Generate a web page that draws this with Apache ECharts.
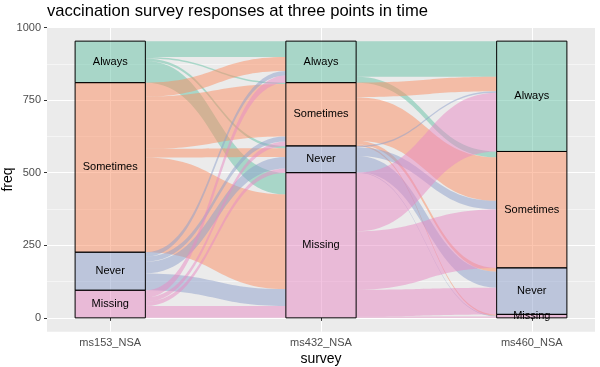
<!DOCTYPE html>
<html><head><meta charset="utf-8">
<script src="https://cdn.jsdelivr.net/npm/echarts@6/dist/echarts.min.js"></script>
<style>html,body{margin:0;padding:0;background:#fff}#c{width:600px;height:367px}</style>
</head><body><div id="c"></div>
<script>
// ---- data ----
const surveys = ['ms153_NSA', 'ms432_NSA', 'ms460_NSA'];
const responses = ['Always', 'Sometimes', 'Never', 'Missing'];
const counts153 = [143, 584, 131, 95];
const counts432 = [143, 218, 92, 500];
const counts460 = [380, 401, 160, 12];
// rows: response at earlier survey, columns: response at later survey
const flow153to432 = [
  [55, 5, 8, 75],
  [48, 180, 30, 326],
  [15, 18, 40, 58],
  [25, 15, 14, 41]
];
const flow432to460 = [
  [123, 20, 0, 0],
  [50, 150, 13, 5],
  [5, 30, 55, 2],
  [202, 201, 92, 5]
];
const yTicks = [0, 250, 500, 750, 1000];
const yMinorTicks = [125, 375, 625, 875];

// ---- palette ----
const palette = ['#66C2A5', '#FC8D62', '#8DA0CB', '#E78AC3'];
function rgba(hex, a) {
  const n = parseInt(hex.slice(1), 16);
  return 'rgba(' + (n >> 16) + ',' + ((n >> 8) & 255) + ',' + (n & 255) + ',' + a + ')';
}
const FONT = 'Liberation Sans, Arial, sans-serif';

// ---- build stacked layout in data units ----
const counts = [counts153, counts432, counts460];
const flows = [flow153to432, flow432to460];
const totals = counts.map(c => c.reduce((a, b) => a + b, 0));
const total = Math.max.apply(null, totals);
function stratumTops(k) {
  const t = []; let c = totals[k];
  counts[k].forEach(v => { t.push(c); c -= v; });
  return t;
}
const strataData = [];
counts.forEach((c, k) => {
  const tops = stratumTops(k);
  c.forEach((v, i) => {
    strataData.push({ value: [k + 1, tops[i], tops[i] - v, i] });
  });
});
const flowData = [];
flows.forEach((F, k) => {
  const lt = stratumTops(k), rt = stratumTops(k + 1);
  const n = responses.length;
  for (let i = 0; i < n; i++) {
    for (let j = 0; j < n; j++) {
      const v = F[i][j];
      if (!v) continue;
      let offL = 0; for (let jj = 0; jj < j; jj++) offL += F[i][jj];
      let offR = 0; for (let ii = 0; ii < i; ii++) offR += F[ii][j];
      const l0 = lt[i] - offL, r0 = rt[j] - offR;
      flowData.push({ value: [k, i, j, v, l0, l0 - v, r0, r0 - v] });
    }
  }
});

const halfW = 1 / 6;
const chart = echarts.init(document.getElementById('c'));
chart.setOption({
  animation: false,
  title: {
    text: 'vaccination survey responses at three points in time',
    left: 47, top: 3, padding: 0,
    textStyle: { fontSize: 16.6, fontWeight: 'normal', color: '#000', fontFamily: FONT }
  },
  grid: {
    left: 47, right: 5, top: 27.3, bottom: 35.3,
    outerBoundsMode: 'none', containLabel: false,
    show: true, backgroundColor: '#EBEBEB', borderWidth: 0
  },
  xAxis: {
    type: 'value', min: 0.7, max: 3.3,
    axisLine: { show: false },
    axisTick: { show: true, length: 3, customValues: [1, 2, 3], lineStyle: { color: '#333', width: 1 } },
    axisLabel: { customValues: [1, 2, 3], formatter: v => surveys[Math.round(v) - 1], color: '#4D4D4D', fontSize: 11, margin: 6, fontFamily: FONT },
    splitLine: { show: true, lineStyle: { color: '#fff', width: 1 } },
    name: 'survey', nameLocation: 'middle', nameGap: 20, nameMoveOverlap: false,
    nameTextStyle: { fontSize: 14, color: '#000', fontFamily: FONT }
  },
  yAxis: [{
    type: 'value', min: -0.05 * total, max: 1.05 * total,
    axisLine: { show: false },
    axisTick: { show: true, length: 3, customValues: yTicks, lineStyle: { color: '#333', width: 1 } },
    axisLabel: { customValues: yTicks, formatter: v => String(Math.round(v)), color: '#4D4D4D', fontSize: 11, margin: 6, fontFamily: FONT },
    splitLine: { show: true, lineStyle: { color: '#fff', width: 1 } },
    name: 'freq', nameLocation: 'middle', nameGap: 32, nameMoveOverlap: false,
    nameTextStyle: { fontSize: 14, color: '#000', fontFamily: FONT }
  }, {
    type: 'value', min: -0.05 * total, max: 1.05 * total, position: 'left',
    axisLine: { show: false },
    axisTick: { show: false, customValues: yMinorTicks },
    axisLabel: { show: false, customValues: yMinorTicks },
    splitLine: { show: true, lineStyle: { color: '#fff', width: 0.5 } }
  }],
  series: [{
    type: 'custom', name: 'flows', coordinateSystem: 'cartesian2d', z: 2,
    data: flowData, silent: true,
    renderItem(params, api) {
      const k = api.value(0), i = api.value(1);
      const x0 = k + 1 + halfW, x1 = k + 2 - halfW;
      const a = api.coord([x0, api.value(4)]), b = api.coord([x0, api.value(5)]);
      const c = api.coord([x1, api.value(6)]), d = api.coord([x1, api.value(7)]);
      const mx = (a[0] + c[0]) / 2;
      const path = 'M' + a[0] + ',' + a[1] +
        ' C' + mx + ',' + a[1] + ' ' + mx + ',' + c[1] + ' ' + c[0] + ',' + c[1] +
        ' L' + d[0] + ',' + d[1] +
        ' C' + mx + ',' + d[1] + ' ' + mx + ',' + b[1] + ' ' + b[0] + ',' + b[1] + ' Z';
      return { type: 'path', shape: { pathData: path }, style: { fill: rgba(palette[i], 0.5), stroke: null } };
    }
  }, {
    type: 'custom', name: 'strata', coordinateSystem: 'cartesian2d', z: 3,
    data: strataData, silent: true,
    renderItem(params, api) {
      const x = api.value(0), i = api.value(3);
      const tl = api.coord([x - halfW, api.value(1)]);
      const br = api.coord([x + halfW, api.value(2)]);
      const cx = (tl[0] + br[0]) / 2, cy = (tl[1] + br[1]) / 2;
      return {
        type: 'group',
        children: [{
          type: 'rect',
          shape: { x: tl[0], y: tl[1], width: br[0] - tl[0], height: br[1] - tl[1] },
          style: { fill: rgba(palette[i], 0.5), stroke: '#000', lineWidth: 1 }
        }, {
          type: 'text',
          style: { text: responses[i], x: cx, y: cy, align: 'center', verticalAlign: 'middle', fontSize: 11, fill: '#000', fontFamily: FONT }
        }]
      };
    }
  }]
});
</script></body></html>
